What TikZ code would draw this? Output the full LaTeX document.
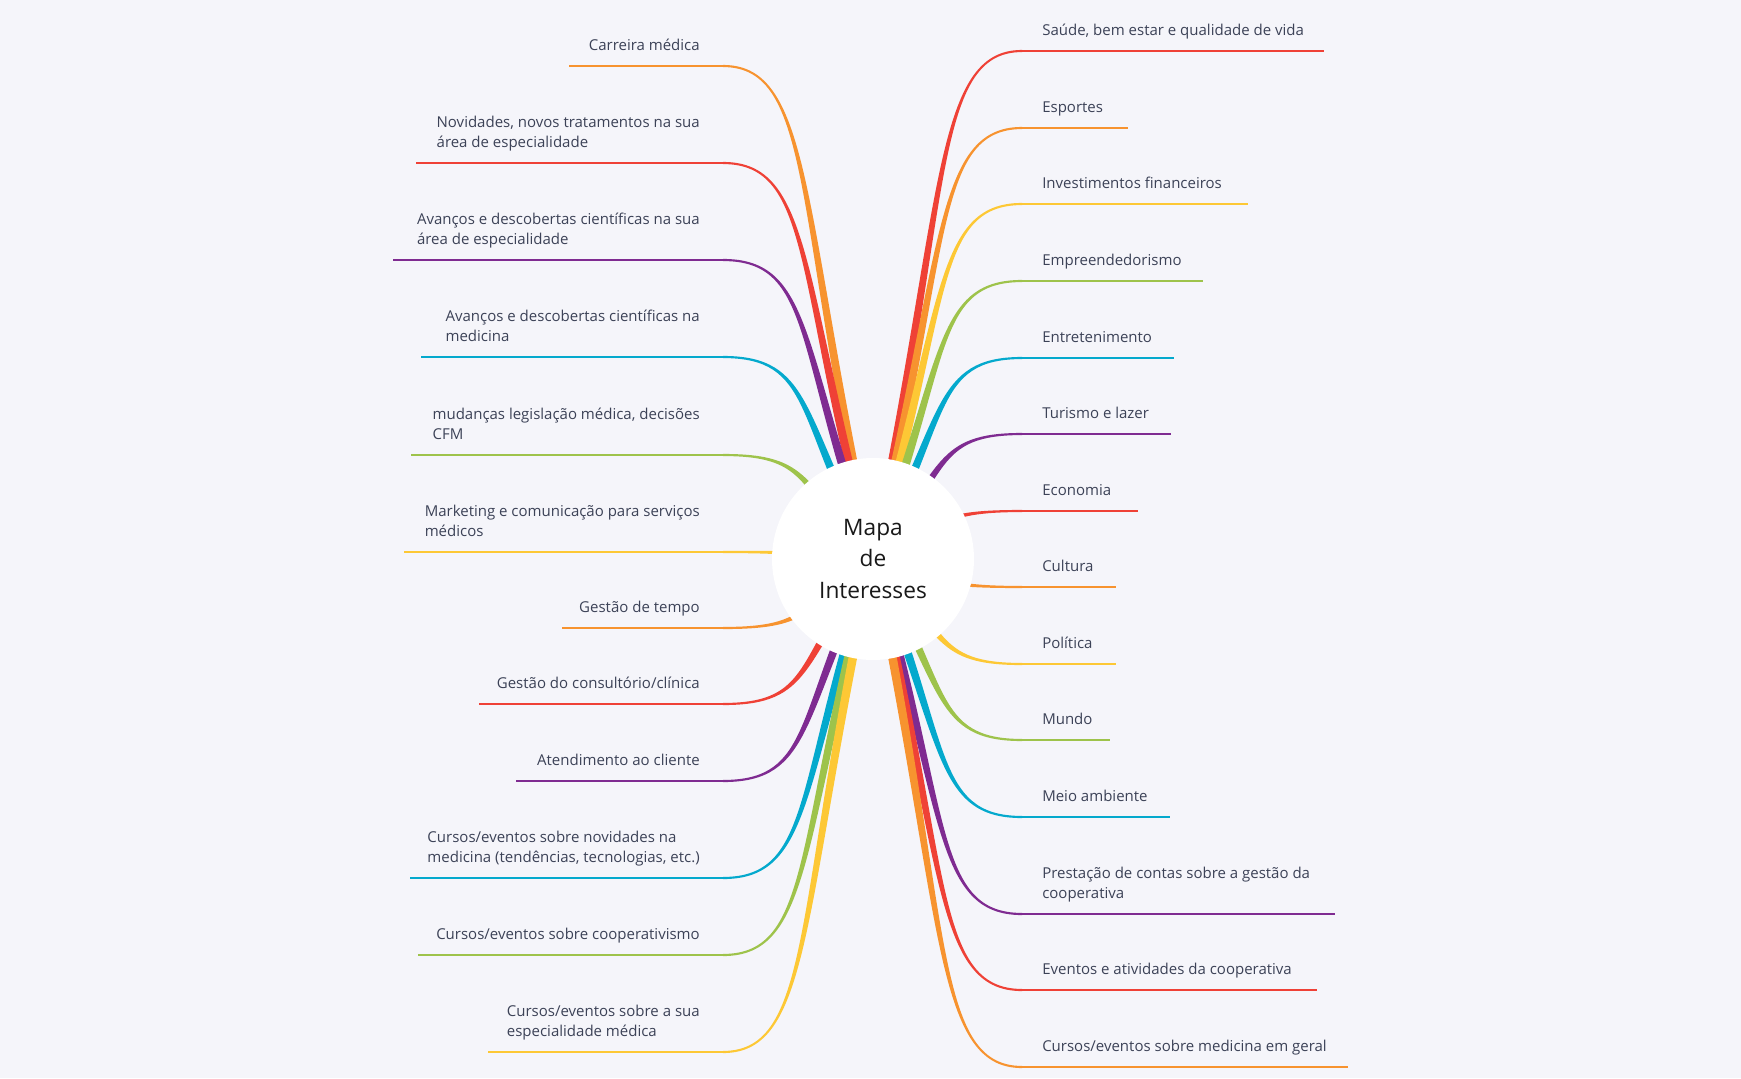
\documentclass[tikz,border=0pt]{standalone}
\usepackage{fontspec}
\setmainfont{Open Sans}
\usetikzlibrary{calc}
\definecolor{bgc}{HTML}{F5F5FA}
\definecolor{txt}{HTML}{3C4257}
\definecolor{cred}{HTML}{EF4136}
\definecolor{corange}{HTML}{F7932F}
\definecolor{cyellow}{HTML}{FDC835}
\definecolor{cgreen}{HTML}{9EC34B}
\definecolor{ccyan}{HTML}{04A9CD}
\definecolor{cpurple}{HTML}{7F2B91}
\pgfdeclarelayer{under}
\pgfsetlayers{under,main}
\tikzset{
  lbl/.style={inner sep=0pt, text depth=0pt, align=left, text=txt,
    font=\fontsize{11.25}{15}\selectfont},
  rootnode/.style={circle, fill=white, minimum size=151.5pt, inner sep=0pt,
    align=center, text=black!90, font=\fontsize{17}{23.3}\selectfont},
  uline/.style={line width=1.65pt},
}
% tapered branch from root to end coordinate #2, then underline to #3
\newcommand\mmbranch[3]{%
  \path let \p0=(root.center), \p3=(#2) in
    coordinate (#2c1) at ({\x0+0.5*(\x3-\x0)},{\y0+0.7*(\y3-\y0)})
    coordinate (#2c2) at ({\x0+0.4*(\x3-\x0)},{\y3});
  \fill[#1] ($(root.center)!3.3pt!90:(#2c1)$)
     .. controls ($(#2c1)!3.3pt!-90:(root.center)$) and ($(#2c2)!0.8pt!90:(#2)$)
     .. ($(#2)!0.8pt!-90:(#2c2)$) -- ($(#2)!0.8pt!90:(#2c2)$)
     .. controls ($(#2c2)!0.8pt!-90:(#2)$) and ($(#2c1)!3.3pt!90:(root.center)$)
     .. ($(root.center)!3.3pt!-90:(#2c1)$) -- cycle;
  \draw[#1, uline] (#2) -- (#3);
}
\newcommand\leftitem[5]{%
  \coordinate (#1e) at (723,#2);
  \coordinate (#1f) at (#3,#2);
  \node[lbl, anchor=south east] (#1) at (700,{#2-15}) {#5};
  \mmbranch{#4}{#1e}{#1f}%
}
\newcommand\rightitem[5]{%
  \coordinate (#1e) at (1022,#2);
  \coordinate (#1f) at (#3,#2);
  \node[lbl, anchor=south west] (#1) at (1042,{#2-15}) {#5};
  \mmbranch{#4}{#1e}{#1f}%
}
\begin{document}
\begin{tikzpicture}[x=0.75pt, y=-0.75pt]
\node[rootnode] (root) at (873,559) {Mapa\\de\\Interesses};
\begin{pgfonlayer}{under}
\fill[bgc] (0,0) rectangle (1741,1078);
\useasboundingbox (0,0) rectangle (1741,1078);
\leftitem{car}{66}{569}{corange}{Carreira médica}
\leftitem{nov}{163}{416}{cred}{Novidades, novos tratamentos na sua\\área de especialidade}
\leftitem{ave}{260}{393}{cpurple}{Avanços e descobertas científicas na sua\\área de especialidade}
\leftitem{avm}{357}{421}{ccyan}{Avanços e descobertas científicas na\\medicina}
\leftitem{mud}{455}{411}{cgreen}{mudanças legislação médica, decisões\\CFM}
\leftitem{mkt}{552}{404}{cyellow}{Marketing e comunicação para serviços\\médicos}
\leftitem{gt}{628}{562}{corange}{Gestão de tempo}
\leftitem{gc}{704}{479}{cred}{Gestão do consultório/clínica}
\leftitem{at}{781}{516}{cpurple}{Atendimento ao cliente}
\leftitem{cn}{878}{410}{ccyan}{Cursos/eventos sobre novidades na\\medicina (tendências, tecnologias, etc.)}
\leftitem{cc}{955}{418}{cgreen}{Cursos/eventos sobre cooperativismo}
\leftitem{ce}{1052}{488}{cyellow}{Cursos/eventos sobre a sua\\especialidade médica}
\rightitem{sau}{51}{1324}{cred}{Saúde, bem estar e qualidade de vida}
\rightitem{esp}{128}{1128}{corange}{Esportes}
\rightitem{inv}{204}{1248}{cyellow}{Investimentos financeiros}
\rightitem{emp}{281}{1203}{cgreen}{Empreendedorismo}
\rightitem{ent}{358}{1174}{ccyan}{Entretenimento}
\rightitem{tur}{434}{1171}{cpurple}{Turismo e lazer}
\rightitem{eco}{511}{1138}{cred}{Economia}
\rightitem{cul}{587}{1116}{corange}{Cultura}
\rightitem{pol}{664}{1116}{cyellow}{Política}
\rightitem{mun}{740}{1110}{cgreen}{Mundo}
\rightitem{mei}{817}{1170}{ccyan}{Meio ambiente}
\rightitem{pre}{914}{1335}{cpurple}{Prestação de contas sobre a gestão da\\cooperativa}
\rightitem{eve}{990}{1317}{cred}{Eventos e atividades da cooperativa}
\rightitem{cur}{1067}{1348}{corange}{Cursos/eventos sobre medicina em geral}
\end{pgfonlayer}
\end{tikzpicture}
\end{document}
